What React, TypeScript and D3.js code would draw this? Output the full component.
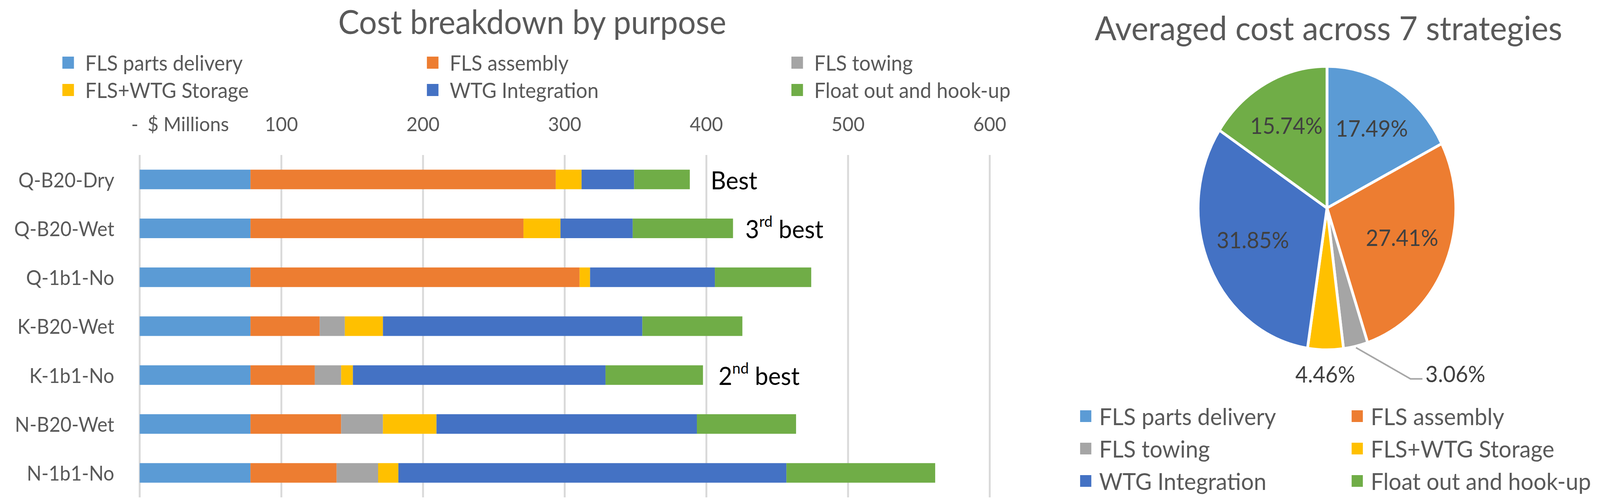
import React, { useLayoutEffect, useRef, useState } from "react";
import * as d3 from "d3";

// ---------- data ----------
const categories = ["Q-B20-Dry", "Q-B20-Wet", "Q-1b1-No", "K-B20-Wet", "K-1b1-No", "N-B20-Wet", "N-1b1-No"];
const seriesNames = ["FLS parts delivery", "FLS assembly", "FLS towing", "FLS+WTG Storage", "WTG Integration", "Float out and hook-up"];
const seriesColors = ["#5B9BD5", "#ED7D31", "#A5A5A5", "#FFC000", "#4472C4", "#70AD47"];

const partsDelivery = [78.2, 78.2, 78.2, 78.2, 78.2, 78.2, 78.2];
const assembly = [215.5, 192.7, 232.3, 48.9, 45.4, 64.0, 60.8];
const towing = [0, 0, 0, 17.7, 18.6, 29.5, 29.3];
const storage = [18.2, 26.1, 7.4, 26.9, 8.3, 37.8, 14.3];
const wtgIntegration = [37.1, 51.0, 88.1, 183.1, 178.3, 183.8, 273.9];
const floatOut = [39.3, 70.8, 68.0, 70.6, 68.8, 70.0, 105.0];

const xTicks = [0, 100, 200, 300, 400, 500, 600];
const axisUnitLabel = "$ Millions";

const annotations = [
  { category: "Q-B20-Dry", lead: "Best", sup: "", tail: "", at: 403 },
  { category: "Q-B20-Wet", lead: "3", sup: "rd", tail: " best", at: 427.5 },
  { category: "K-1b1-No", lead: "2", sup: "nd", tail: " best", at: 408.5 },
];

const pieShares = [17.49, 27.41, 3.06, 4.46, 31.85, 15.74];
const pieLegendOrder = [0, 1, 2, 3, 4, 5];

const barTitle = "Cost breakdown by purpose";
const pieTitle = "Averaged cost across 7 strategies";

// ---------- styles ----------
const FONT = "Lato, 'Open Sans', sans-serif";
const GREY_TEXT = "#595959";
const LABEL_TEXT = "#404040";
const TITLE_WEIGHT = 400;

// font fitting: sample text and the width it occupies in the reference
const fitSpecs: Record<string, { sample: string; width: number; fallback: number; weight: number }> = {
  barTitle: { sample: barTitle, width: 1039, fallback: 84, weight: TITLE_WEIGHT },
  barLegend: { sample: "FLS parts delivery", width: 422, fallback: 53, weight: 400 },
  tick: { sample: "100", width: 89, fallback: 52, weight: 400 },
  category: { sample: "Q-B20-Dry", width: 257, fallback: 52, weight: 400 },
  annotation: { sample: "Best", width: 125, fallback: 65, weight: 400 },
  pieTitle: { sample: pieTitle, width: 1252, fallback: 86, weight: TITLE_WEIGHT },
  pieLabel: { sample: "17.49%", width: 194, fallback: 57, weight: 400 },
  pieLegend: { sample: "Float out and hook-up", width: 590, fallback: 58, weight: 400 },
};

export default function App() {
  const W = 4284;
  const H = 1291;

  const measureRef = useRef<SVGTextElement | null>(null);
  const initial: Record<string, number> = {};
  Object.keys(fitSpecs).forEach((k) => (initial[k] = fitSpecs[k].fallback));
  const [fs, setFs] = useState<Record<string, number>>(initial);

  useLayoutEffect(() => {
    const el = measureRef.current;
    if (!el) return;
    const next: Record<string, number> = {};
    Object.keys(fitSpecs).forEach((k) => {
      el.textContent = fitSpecs[k].sample;
      el.setAttribute("font-size", "100");
      el.setAttribute("font-weight", String(fitSpecs[k].weight));
      const len = el.getComputedTextLength();
      next[k] = len > 0 ? (100 * fitSpecs[k].width) / len : fitSpecs[k].fallback;
    });
    el.textContent = "";
    setFs(next);
  }, []);

  // bar chart scales
  const x = d3.scaleLinear().domain([0, 600]).range([374, 2650]);
  const y = d3
    .scaleBand<string>()
    .domain(categories)
    .range([397, 1274])
    .paddingInner(0.6)
    .paddingOuter(0.3);

  const seriesValues = [partsDelivery, assembly, towing, storage, wtgIntegration, floatOut];
  const rows = categories.map((c, i) => {
    const r: Record<string, any> = { category: c };
    seriesNames.forEach((s, k) => (r[s] = seriesValues[k][i]));
    return r;
  });
  const stacked = d3.stack<any>().keys(seriesNames)(rows);

  // pie
  const cx = 3553;
  const cy = 533;
  const rx = 345;
  const ry = 363;
  const yScale = ry / rx;
  const pieArcs = d3.pie<number>().sort(null).value((d) => d)(pieShares);
  const arcGen = d3.arc<d3.PieArcDatum<number>>().innerRadius(0).outerRadius(rx);
  const pt = (angle: number, r: number) => [cx + r * Math.sin(angle), cy - r * Math.cos(angle) * yScale];

  const fmtPct = (v: number) => v.toFixed(2) + "%";
  const ann = fs.annotation;

  return (
    <svg
      viewBox={`0 0 ${W} ${H}`}
      preserveAspectRatio="none"
      style={{ position: "absolute", left: 0, top: 0, width: "100vw", height: "100vh", background: "#ffffff" }}
      fontFamily={FONT}
    >
      <rect x={0} y={0} width={W} height={H} fill="#ffffff" />
      <text ref={measureRef} x={0} y={-100} visibility="hidden" fontFamily={FONT} />

      {/* ---------------- Bar chart ---------------- */}
      <text
        x={1425}
        y={54}
        textAnchor="middle"
        dominantBaseline="central"
        fontSize={fs.barTitle}
        fontWeight={TITLE_WEIGHT}
        fill={GREY_TEXT}
      >
        {barTitle}
      </text>

      {/* legend */}
      {seriesNames.map((s, i) => {
        const col = i % 3;
        const row = Math.floor(i / 3);
        const lx = 167 + col * 976;
        const ly = 160 + row * 70;
        return (
          <g key={s}>
            <rect x={lx} y={ly - 15} width={31} height={31} fill={seriesColors[i]} />
            <text x={lx + 61} y={ly} dominantBaseline="central" fontSize={fs.barLegend} fill={GREY_TEXT}>
              {s}
            </text>
          </g>
        );
      })}

      {/* gridlines */}
      {xTicks.map((t) => (
        <line key={t} x1={x(t)} x2={x(t)} y1={397} y2={1274} stroke="#D9D9D9" strokeWidth={5} />
      ))}

      {/* tick labels */}
      {xTicks.map((t) => (
        <text
          key={t}
          x={t === 0 ? x(t) - 13 : x(t)}
          y={317}
          textAnchor="middle"
          dominantBaseline="central"
          fontSize={fs.tick}
          fill={GREY_TEXT}
        >
          {t === 0 ? "-" : d3.format("d")(t)}
        </text>
      ))}
      <text x={x(0) + 21} y={317} dominantBaseline="central" fontSize={fs.tick} fill={GREY_TEXT}>
        {axisUnitLabel}
      </text>

      {/* category labels */}
      {categories.map((c) => (
        <text
          key={c}
          x={306}
          y={(y(c) as number) + y.bandwidth() / 2}
          textAnchor="end"
          dominantBaseline="central"
          fontSize={fs.category}
          fill={GREY_TEXT}
        >
          {c}
        </text>
      ))}

      {/* bars */}
      {stacked.map((layer, k) => (
        <g key={layer.key} fill={seriesColors[k]}>
          {layer.map((d: any) => (
            <rect
              key={d.data.category}
              x={x(d[0])}
              y={y(d.data.category) as number}
              width={Math.max(0, x(d[1]) - x(d[0]))}
              height={y.bandwidth()}
            />
          ))}
        </g>
      ))}

      {/* annotations */}
      {annotations.map((a) => (
        <text
          key={a.category}
          x={x(a.at)}
          y={(y(a.category) as number) + y.bandwidth() / 2}
          dominantBaseline="central"
          fontSize={ann}
          fill="#000000"
        >
          {a.lead}
          {a.sup ? (
            <tspan dy={-0.3 * ann} fontSize={0.62 * ann}>
              {a.sup}
            </tspan>
          ) : null}
          {a.tail ? <tspan dy={a.sup ? 0.3 * ann : 0}>{a.tail}</tspan> : null}
        </text>
      ))}

      {/* ---------------- Pie chart ---------------- */}
      <text
        x={3557}
        y={70}
        textAnchor="middle"
        dominantBaseline="central"
        fontSize={fs.pieTitle}
        fontWeight={TITLE_WEIGHT}
        fill={GREY_TEXT}
      >
        {pieTitle}
      </text>

      <g transform={`translate(${cx},${cy}) scale(1,${yScale})`}>
        {pieArcs.map((a, i) => (
          <path
            key={i}
            d={arcGen(a) as string}
            fill={seriesColors[i]}
            stroke="#ffffff"
            strokeWidth={7}
            vectorEffect="non-scaling-stroke"
            strokeLinejoin="round"
          />
        ))}
      </g>

      {/* pie labels */}
      {pieArcs.map((a, i) => {
        const mid = (a.startAngle + a.endAngle) / 2;
        const share = pieShares[i];
        if (share >= 10) {
          const lower = Math.cos(mid) < 0;
          const [lx, ly] = pt(mid, rx * (lower ? 0.63 : 0.665));
          return (
            <text key={i} x={lx} y={lower ? ly - 12 : ly} textAnchor="middle" dominantBaseline="central" fontSize={fs.pieLabel} fill={LABEL_TEXT}>
              {fmtPct(share)}
            </text>
          );
        }
        if (share >= 4) {
          const [lx, ly] = pt(mid, rx * 1.17);
          return (
            <text key={i} x={lx} y={ly} textAnchor="middle" dominantBaseline="central" fontSize={fs.pieLabel} fill={LABEL_TEXT}>
              {fmtPct(share)}
            </text>
          );
        }
        const [p0x, p0y] = pt(mid, rx * 1.01);
        const ex = p0x + 146;
        const ey = p0y + 80;
        const endX = ex + 32;
        return (
          <g key={i}>
            <polyline
              points={`${p0x},${p0y} ${ex},${ey} ${endX},${ey}`}
              fill="none"
              stroke="#A6A6A6"
              strokeWidth={4}
            />
            <text x={endX + 8} y={ey - 14} dominantBaseline="central" fontSize={fs.pieLabel} fill={LABEL_TEXT}>
              {fmtPct(share)}
            </text>
          </g>
        );
      })}

      {/* pie legend */}
      {pieLegendOrder.map((si, i) => {
        const col = i % 2;
        const row = Math.floor(i / 2);
        const lx = 2892 + col * 727;
        const ly = 1066 + row * 83;
        return (
          <g key={si}>
            <rect x={lx} y={ly - 15} width={30} height={30} fill={seriesColors[si]} />
            <text x={lx + 51} y={ly} dominantBaseline="central" fontSize={fs.pieLegend} fill={GREY_TEXT}>
              {seriesNames[si]}
            </text>
          </g>
        );
      })}
    </svg>
  );
}
